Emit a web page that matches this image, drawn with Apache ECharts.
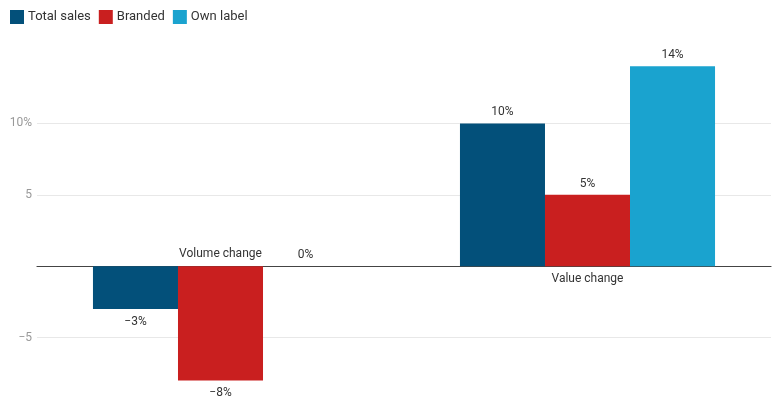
<!DOCTYPE html>
<html lang="en">

<head>
  <meta charset="UTF-8">
  <title>Sales change</title>
  <style>
    * {
      margin: 0;
      padding: 0;
      box-sizing: border-box;
    }

    body {
      background-color: #fff;
    }

    .chart {
      width: 780px;
      height: 409px;
    }
  </style>
</head>

<body>
  <div id="chart" class="chart"></div>
  <script src="https://cdn.jsdelivr.net/npm/echarts@6/dist/echarts.min.js"></script>
  <script>
    const categories = ['Volume change', 'Value change']
    const totalSales = [-3, 10]
    const branded = [-8, 5]
    const ownLabel = [0, 14]
    const yTickLabels = { '10': '10%', '5': '5', '-5': '\u22125' }

    const fmt = v => (v < 0 ? '\u2212' + Math.abs(v) : v) + '%'

    // label sits outside the bar end: above for positive, below for negative
    function withLabels(values) {
      return values.map(v => ({
        value: v,
        label: v < 0 ? { position: 'bottom', distance: 7 } : { position: 'top', distance: 5 }
      }))
    }

    function barSeries(name, values, color) {
      return {
        name: name,
        type: 'bar',
        barGap: 0,
        barCategoryGap: '30.5%',
        itemStyle: { color: color },
        label: {
          show: true,
          color: '#333',
          fontSize: 12,
          fontFamily: 'Roboto',
          formatter: p => fmt(p.value)
        },
        data: withLabels(values)
      }
    }

    const chart = echarts.init(document.querySelector('#chart'))
    const options = {
      animation: false,
      textStyle: { fontFamily: 'Roboto' },
      legend: {
        left: 10,
        top: 10,
        padding: 0,
        itemWidth: 14,
        itemHeight: 14,
        itemGap: 8,
        icon: 'rect',
        data: ['Total sales', 'Branded', 'Own label'],
        textStyle: { color: '#333', fontSize: 13, fontFamily: 'Roboto', padding: [0, 0, 0, -1] }
      },
      grid: {
        left: 37,
        right: 9,
        top: 52,
        bottom: 0,
        containLabel: false
      },
      xAxis: [
        {
          type: 'category',
          data: categories,
          axisLine: { onZero: true, lineStyle: { color: '#444', width: 1.2 } },
          axisTick: { show: false },
          axisLabel: { show: false }
        },
        {
          type: 'category',
          data: categories,
          show: false
        }
      ],
      yAxis: {
        type: 'value',
        min: -10,
        max: 15,
        interval: 5,
        axisLine: { show: false },
        axisTick: { show: false },
        axisLabel: {
          color: '#999',
          fontSize: 12,
          margin: 5,
          formatter: v => yTickLabels[String(v)] || ''
        },
        splitLine: {
          lineStyle: {
            color: ['transparent', '#e8e8e8', 'transparent', '#e8e8e8', '#e8e8e8', 'transparent']
          }
        }
      },
      series: [
        barSeries('Total sales', totalSales, '#03507a'),
        barSeries('Branded', branded, '#c91f1f'),
        barSeries('Own label', ownLabel, '#1aa3cf'),
        {
          // category names placed on the side of the zero line away from the bars
          name: 'categoryLabels',
          type: 'bar',
          xAxisIndex: 1,
          barWidth: '100%',
          silent: true,
          itemStyle: { color: 'transparent' },
          label: {
            show: true,
            color: '#333',
            fontSize: 12,
            formatter: p => p.name
          },
          data: categories.map((c, i) => ({
            value: 0,
            label: totalSales[i] < 0 ? { position: 'top', distance: 6 } : { position: 'bottom', distance: 7 }
          }))
        }
      ]
    }

    chart.setOption(options)
  </script>
</body>

</html>
